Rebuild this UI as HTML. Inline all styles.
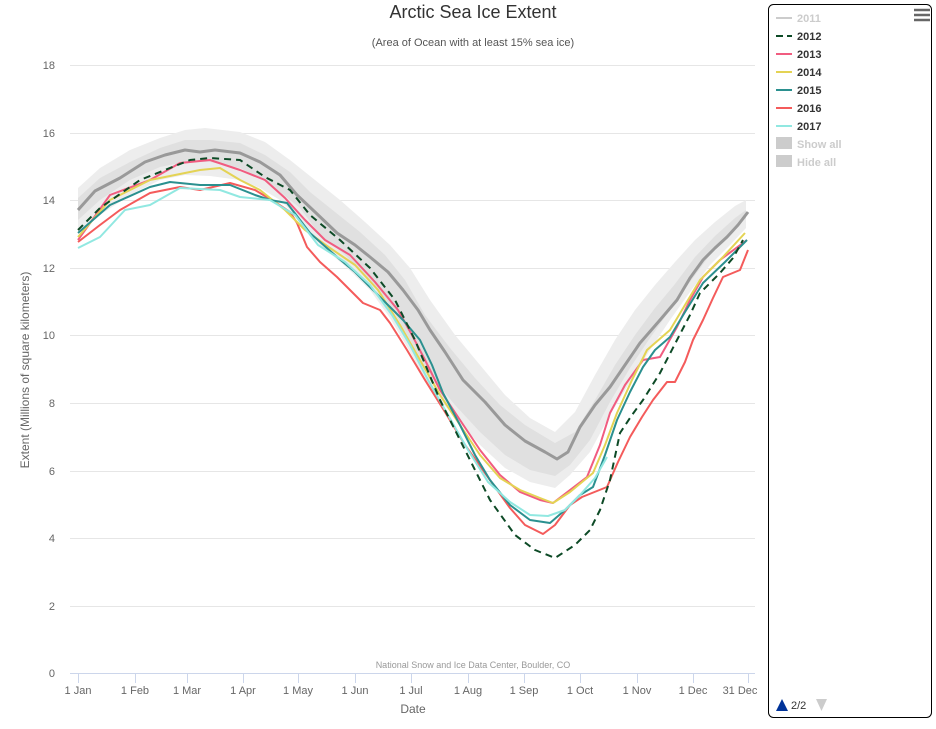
<!DOCTYPE html>
<html><head><meta charset="utf-8"><style>
html,body{margin:0;padding:0;background:#fff;}
body{width:936px;height:724px;overflow:hidden;font-family:"Liberation Sans",sans-serif;}
text{font-family:"Liberation Sans",sans-serif;}
</style></head><body>
<svg width="936" height="724" viewBox="0 0 936 724" xmlns="http://www.w3.org/2000/svg">
<rect width="936" height="724" fill="#fff"/>
<text x="473" y="18" text-anchor="middle" font-size="18" fill="#333">Arctic Sea Ice Extent</text>
<text x="473" y="46" text-anchor="middle" font-size="11" fill="#555">(Area of Ocean with at least 15% sea ice)</text>
<g stroke="#e6e6e6" stroke-width="1">
<line x1="70" x2="755" y1="65.5" y2="65.5"/><line x1="70" x2="755" y1="133.5" y2="133.5"/>
<line x1="70" x2="755" y1="200.5" y2="200.5"/><line x1="70" x2="755" y1="268.5" y2="268.5"/>
<line x1="70" x2="755" y1="335.5" y2="335.5"/><line x1="70" x2="755" y1="403.5" y2="403.5"/>
<line x1="70" x2="755" y1="471.5" y2="471.5"/><line x1="70" x2="755" y1="538.5" y2="538.5"/>
<line x1="70" x2="755" y1="606.5" y2="606.5"/>
</g>
<line x1="70" x2="755" y1="673.5" y2="673.5" stroke="#ccd6eb"/>
<g stroke="#ccd6eb"><line x1="78.5" x2="78.5" y1="674" y2="683"/><line x1="135.5" x2="135.5" y1="674" y2="683"/><line x1="187.5" x2="187.5" y1="674" y2="683"/><line x1="243.5" x2="243.5" y1="674" y2="683"/><line x1="298.5" x2="298.5" y1="674" y2="683"/><line x1="355.5" x2="355.5" y1="674" y2="683"/><line x1="411.5" x2="411.5" y1="674" y2="683"/><line x1="468.5" x2="468.5" y1="674" y2="683"/><line x1="524.5" x2="524.5" y1="674" y2="683"/><line x1="580.5" x2="580.5" y1="674" y2="683"/><line x1="637.5" x2="637.5" y1="674" y2="683"/><line x1="693.5" x2="693.5" y1="674" y2="683"/><line x1="748.5" x2="748.5" y1="674" y2="683"/></g>
<g font-size="11" fill="#666" text-anchor="end">
<text x="55" y="69">18</text><text x="55" y="137">16</text><text x="55" y="204">14</text><text x="55" y="272">12</text><text x="55" y="339">10</text><text x="55" y="407">8</text><text x="55" y="475">6</text><text x="55" y="542">4</text><text x="55" y="610">2</text><text x="55" y="677">0</text>
</g>
<g font-size="11" fill="#666" text-anchor="middle">
<text x="78" y="694">1 Jan</text><text x="135" y="694">1 Feb</text><text x="187" y="694">1 Mar</text><text x="243" y="694">1 Apr</text><text x="298" y="694">1 May</text><text x="355" y="694">1 Jun</text><text x="411" y="694">1 Jul</text><text x="468" y="694">1 Aug</text><text x="524" y="694">1 Sep</text><text x="580" y="694">1 Oct</text><text x="637" y="694">1 Nov</text><text x="693" y="694">1 Dec</text><text x="740" y="694">31 Dec</text>
</g>
<text x="413" y="713" text-anchor="middle" font-size="12" fill="#666">Date</text>
<text transform="translate(29,370) rotate(-90)" text-anchor="middle" font-size="12" fill="#666">Extent (Millions of square kilometers)</text>
<text x="473" y="668" text-anchor="middle" font-size="9" fill="#999">National Snow and Ice Data Center, Boulder, CO</text>

<path fill="#ededed" d="M78,188 L100,168 L130,150 L160,138 L185,130 L205,128 L240,132 L265,142 L290,160 L315,180 L340,200 L365,222 L390,245 L410,268 L430,300 L455,335 L480,365 L505,395 L530,418 L555,432 L575,412 L595,375 L615,340 L635,310 L655,285 L675,262 L695,240 L715,222 L735,206 L746,200 L746,228 L730,245 L710,265 L690,292 L670,320 L650,350 L630,382 L610,415 L590,452 L570,475 L555,488 L530,482 L505,468 L480,445 L455,418 L430,388 L410,352 L390,318 L370,290 L345,266 L320,245 L300,220 L280,200 L260,188 L240,180 L210,176 L185,175 L160,180 L130,195 L100,215 L78,232 Z"/>
<path fill="#e0e0e0" d="M78,198 L100,178 L130,162 L160,148 L185,140 L210,140 L240,143 L265,155 L290,172 L310,192 L335,212 L360,232 L385,255 L405,280 L425,315 L450,348 L475,378 L500,405 L525,425 L555,443 L575,432 L595,400 L615,365 L635,335 L655,308 L675,284 L695,257 L715,236 L735,218 L746,210 L746,218 L730,235 L710,255 L690,282 L670,310 L650,338 L630,368 L610,402 L590,440 L570,465 L555,476 L530,470 L505,455 L480,432 L455,405 L430,375 L410,340 L390,305 L370,280 L345,255 L320,235 L300,208 L280,192 L260,178 L240,168 L210,162 L185,162 L160,167 L130,180 L100,200 L78,220 Z"/>
<polyline fill="none" stroke="#999" stroke-width="3" stroke-linejoin="round" points="78,210 95,191 120,178 145,162 165,155 185,150 200,152 215,150 240,153 260,162 280,175 297,195 315,212 337,233 355,245 370,257 388,272 403,290 418,310 430,330 445,352 463,380 485,402 505,425 525,441 545,452 557,459 568,452 580,427 595,405 610,387 625,365 640,343 660,320 677,300 690,278 703,260 715,248 727,237 738,225 748,212"/>
<polyline fill="none" stroke="#f45b5b" stroke-width="2" stroke-linejoin="round" points="78,242 100,225 120,210 150,193 180,187 200,190 230,183 255,190 275,202 290,212 297,223 307,247 320,262 337,277 363,303 380,310 390,323 407,350 425,380 445,412 465,445 490,480 510,508 525,525 543,534 555,525 570,505 582,497 607,487 618,462 630,437 642,417 653,400 667,382 675,382 685,362 693,340 703,320 713,298 723,277 740,270 748,250"/>
<polyline fill="none" stroke="#f15c80" stroke-width="2" stroke-linejoin="round" points="78,240 110,195 150,180 180,163 210,160 240,170 265,180 285,198 305,220 325,240 350,255 375,282 398,310 412,335 425,360 440,390 460,420 480,450 500,475 520,492 540,500 553,503 570,490 587,477 600,445 610,413 625,385 643,360 660,357 677,327 690,300 703,277 720,260 747,240"/>
<polyline fill="none" stroke="#e4d354" stroke-width="2" stroke-linejoin="round" points="78,237 110,200 150,180 200,170 220,168 240,180 260,190 285,210 305,230 330,248 355,265 378,290 400,325 420,360 440,395 460,425 480,455 500,478 520,490 540,498 553,503 570,492 593,473 605,445 617,413 632,380 647,350 670,330 685,305 700,280 723,257 745,233"/>
<polyline fill="none" stroke="#2b908f" stroke-width="2" stroke-linejoin="round" points="78,233 110,205 150,187 170,182 200,185 230,185 255,195 270,200 287,203 310,233 337,257 355,272 370,287 385,302 403,320 420,340 432,365 443,393 460,425 475,455 490,480 510,505 530,520 550,523 565,510 580,495 593,487 605,455 617,420 630,392 643,367 655,350 670,337 685,312 703,283 725,262 747,240"/>
<polyline fill="none" stroke="#91e8e1" stroke-width="2" stroke-linejoin="round" points="78,248 100,237 125,210 150,205 180,188 220,190 240,197 270,200 295,215 318,245 345,262 370,285 392,315 410,345 428,380 448,415 468,450 488,482 510,502 530,515 548,516 565,510 580,495 595,478 607,457"/>
<polyline fill="none" stroke="#0d4a26" stroke-width="2" stroke-dasharray="7,5" stroke-linejoin="round" points="78,230 100,208 140,180 190,160 210,158 240,160 265,177 290,190 310,215 340,240 370,268 395,300 415,340 440,400 465,450 490,500 515,535 535,550 555,558 575,545 590,530 600,510 610,480 620,433 632,415 643,400 660,373 677,340 690,315 700,293 720,273 733,258 743,240"/>

<rect x="768.5" y="4.5" width="163" height="713" rx="5" fill="#fff" stroke="#000"/>
<g stroke="#666" stroke-width="2.5"><line x1="914" x2="930" y1="10" y2="10"/><line x1="914" x2="930" y1="15" y2="15"/><line x1="914" x2="930" y1="20" y2="20"/></g>
<g font-size="11" font-weight="bold">
<line x1="776" x2="792" y1="18" y2="18" stroke="#ccc" stroke-width="2"/><text x="797" y="22" fill="#ccc">2011</text>
<line x1="776" x2="792" y1="36" y2="36" stroke="#0d4a26" stroke-width="2" stroke-dasharray="7,4"/><text x="797" y="40" fill="#333">2012</text>
<line x1="776" x2="792" y1="54" y2="54" stroke="#f15c80" stroke-width="2"/><text x="797" y="58" fill="#333">2013</text>
<line x1="776" x2="792" y1="72" y2="72" stroke="#e4d354" stroke-width="2"/><text x="797" y="76" fill="#333">2014</text>
<line x1="776" x2="792" y1="90" y2="90" stroke="#2b908f" stroke-width="2"/><text x="797" y="94" fill="#333">2015</text>
<line x1="776" x2="792" y1="108" y2="108" stroke="#f45b5b" stroke-width="2"/><text x="797" y="112" fill="#333">2016</text>
<line x1="776" x2="792" y1="126" y2="126" stroke="#91e8e1" stroke-width="2"/><text x="797" y="130" fill="#333">2017</text>
<rect x="776" y="137" width="16" height="12" fill="#ccc"/><text x="797" y="148" fill="#ccc">Show all</text>
<rect x="776" y="155" width="16" height="12" fill="#ccc"/><text x="797" y="166" fill="#ccc">Hide all</text>
</g>
<path d="M776,711 L782,699 L788,711 Z" fill="#003399"/>
<text x="791" y="709" font-size="11" fill="#333">2/2</text>
<path d="M816,699 L827,699 L821.5,711 Z" fill="#ccc"/>
</svg>
</body></html>
